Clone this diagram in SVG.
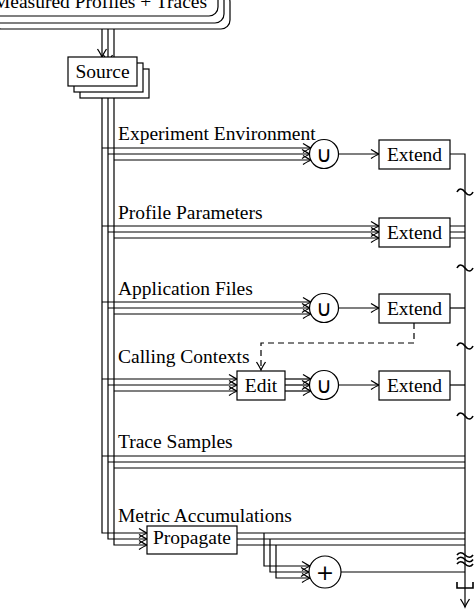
<svg xmlns="http://www.w3.org/2000/svg" width="474" height="609" viewBox="0 0 474 609">
<style>
.ln{fill:none;stroke:#000;stroke-width:1.2}
.ar{marker-end:url(#arr)}
.dash{stroke-dasharray:6 4}
.tl{fill:none;stroke:#000;stroke-width:1.6}
.box{fill:#fff;stroke:#000;stroke-width:1.2}
.t{font-family:"Liberation Serif","Times New Roman",serif;font-size:19.5px;fill:#000}
.c{text-anchor:middle}
.sym{font-family:"DejaVu Sans",sans-serif;font-size:22px;text-anchor:middle;fill:#000}
</style>
<defs>
<marker id="arr" viewBox="-10 -6 12 12" markerWidth="12" markerHeight="12" refX="0" refY="0" orient="auto" markerUnits="userSpaceOnUse">
<path d="M-8,-4.5 Q-2.5,-1 0,0 Q-2.5,1 -8,4.5" fill="none" stroke="#000" stroke-width="1.3"/>
</marker>
</defs>
<rect width="474" height="609" fill="#fff"/>
<g id="connectors">
<path class="ln ar" d="M102,16 V57"/>
<path class="ln ar" d="M108,23 V63"/>
<path class="ln ar" d="M114,29 V69"/>
<path class="ln ar" d="M102,86 V533 H147"/>
<path class="ln ar" d="M108,92 V539 H147"/>
<path class="ln ar" d="M114,98 V545 H147"/>
<path class="ln ar" d="M102,148 H311"/>
<path class="ln ar" d="M108,154 H310"/>
<path class="ln ar" d="M114,160 H311"/>
<path class="ln ar" d="M338.5,154 H379"/>
<path class="ln ar" d="M102,226 H379"/>
<path class="ln ar" d="M108,232 H379"/>
<path class="ln ar" d="M114,238 H379"/>
<path class="ln" d="M450,226 H465 M450,232 H465 M450,238 H465"/>
<path class="ln ar" d="M102,302 H311"/>
<path class="ln ar" d="M108,308 H310"/>
<path class="ln ar" d="M114,314 H311"/>
<path class="ln ar" d="M338.5,308 H379"/>
<path class="ln" d="M450,308 H465"/>
<path class="ln dash ar" d="M414,323 V343 H261 V370"/>
<path class="ln ar" d="M102,379 H237"/>
<path class="ln ar" d="M108,385 H237"/>
<path class="ln ar" d="M114,391 H237"/>
<path class="ln ar" d="M285,379 H311"/>
<path class="ln ar" d="M285,385 H310"/>
<path class="ln ar" d="M285,391 H311"/>
<path class="ln ar" d="M338.5,385 H379"/>
<path class="ln" d="M450,385 H465"/>
<path class="ln" d="M102,456 H465 M108,462 H465 M114,468 H465"/>
<path class="ln" d="M237,533 H465 M237,539 H465 M237,545 H465"/>
<path class="ln ar" d="M264,533 V566 H310"/>
<path class="ln ar" d="M270,539 V572 H309"/>
<path class="ln ar" d="M276,545 V578 H310"/>
<path class="ln" d="M341,572 H465"/>
<path class="ln ar" d="M450,154 H465 V607"/>
<path class="tl" d="M457,192 c2,-4 5,-4 8,0 s6,4 8,0"/>
<path class="tl" d="M457,268 c2,-4 5,-4 8,0 s6,4 8,0"/>
<path class="tl" d="M457,346 c2,-4 5,-4 8,0 s6,4 8,0"/>
<path class="tl" d="M457,416 c2,-4 5,-4 8,0 s6,4 8,0"/>
<path class="tl" d="M457,555 c2,-3 5,-3 8,0 s6,3 8,0 M457,559.5 c2,-3 5,-3 8,0 s6,3 8,0 M457,564 c2,-3 5,-3 8,0 s6,3 8,0"/>
<path class="tl" d="M457,582 V588 H473 V582"/>
</g>
<g id="measured">
<rect class="box" x="-8" y="-7" width="238" height="36" rx="9"/>
<rect class="box" x="-14" y="-13" width="238" height="36" rx="9"/>
<rect class="box" x="-20" y="-20" width="238" height="36" rx="9"/>
<text class="t c" x="100" y="8">Measured Profiles + Traces</text>
</g>
<g id="source">
<rect class="box" x="80" y="69" width="69" height="29"/>
<rect class="box" x="74" y="63" width="69" height="29"/>
<rect class="box" x="68" y="57" width="69" height="29"/>
<text class="t c" x="102.5" y="78">Source</text>
</g>
<g id="labels">
<text class="t" x="118" y="140">Experiment Environment</text>
<text class="t" x="118" y="219">Profile Parameters</text>
<text class="t" x="118" y="295">Application Files</text>
<text class="t" x="118" y="363">Calling Contexts</text>
<text class="t" x="118" y="448">Trace Samples</text>
<text class="t" x="118" y="522">Metric Accumulations</text>
</g>
<g id="union1"><circle class="box" cx="324" cy="154" r="14.5"/><text class="sym" x="324" y="161.5">∪</text></g>
<g id="extend1"><rect class="box" x="379" y="140" width="71" height="29"/><text class="t c" x="414.5" y="161">Extend</text></g>
<g id="extend2"><rect class="box" x="379" y="218" width="71" height="29"/><text class="t c" x="414.5" y="239">Extend</text></g>
<g id="union3"><circle class="box" cx="324" cy="308" r="14.5"/><text class="sym" x="324" y="315.5">∪</text></g>
<g id="extend3"><rect class="box" x="379" y="294" width="71" height="29"/><text class="t c" x="414.5" y="315">Extend</text></g>
<g id="edit"><rect class="box" x="237" y="371" width="48" height="29"/><text class="t c" x="261" y="392">Edit</text></g>
<g id="union4"><circle class="box" cx="324" cy="385" r="14.5"/><text class="sym" x="324" y="392.5">∪</text></g>
<g id="extend4"><rect class="box" x="379" y="371" width="71" height="29"/><text class="t c" x="414.5" y="392">Extend</text></g>
<g id="propagate"><rect class="box" x="147" y="526" width="90" height="28"/><text class="t c" x="192" y="544">Propagate</text></g>
<g id="plus"><circle class="box" cx="325" cy="572" r="16"/><text class="sym" x="325" y="579.5">+</text></g>
</svg>
